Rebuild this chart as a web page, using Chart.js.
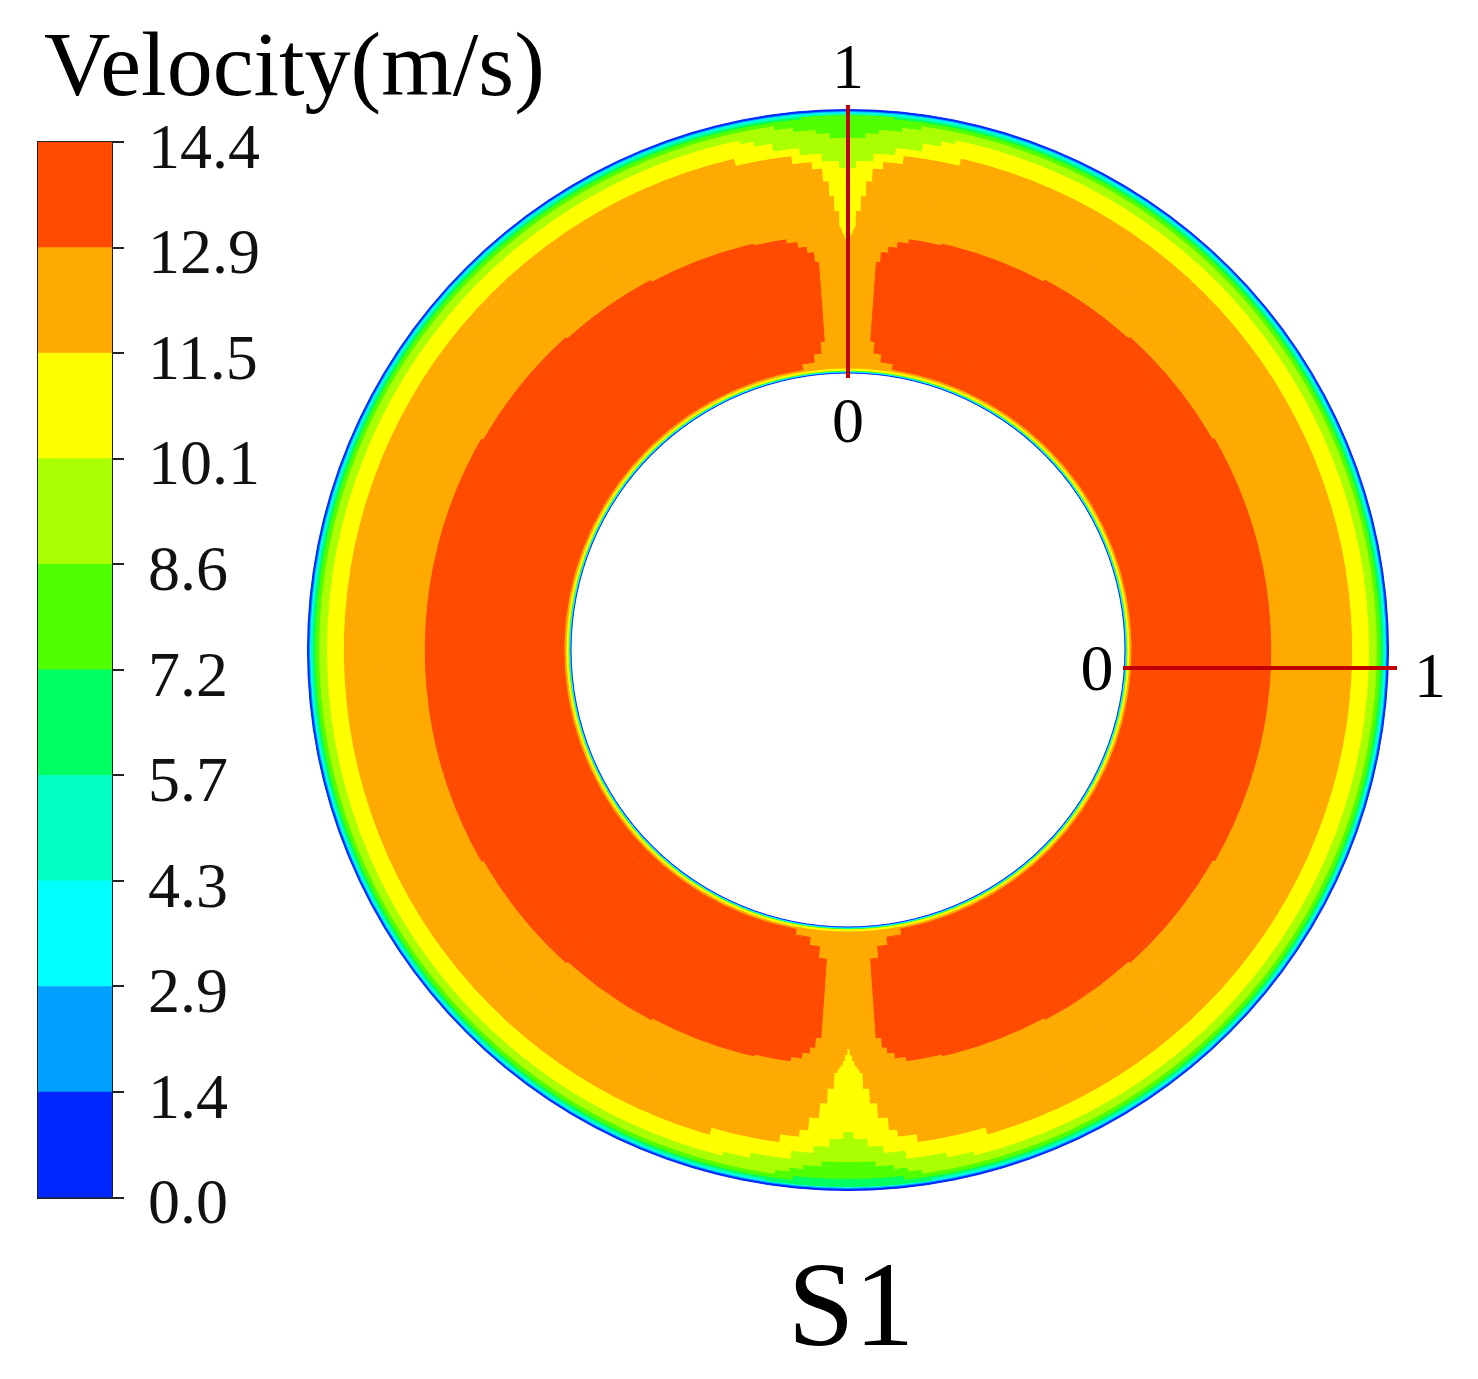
<!DOCTYPE html>
<html><head><meta charset="utf-8">
<script src="https://cdn.jsdelivr.net/npm/chart.js@4/dist/chart.umd.min.js"></script>
<style>
html,body{margin:0;padding:0;background:#fff;}
#wrap{position:relative;width:1478px;height:1379px;overflow:hidden;background:#fff;}
canvas{position:absolute;}
</style></head><body>
<div id="wrap">
<canvas id="cbar" width="300" height="1260" style="left:0;top:0"></canvas>
<canvas id="ring" width="1082" height="1082" style="left:307px;top:109px"></canvas>
<canvas id="over" width="1478" height="1379" style="left:0;top:0"></canvas>
</div>
<script>
// ---------- colour scale (velocity, m/s) ----------
const levelValues = [0, 1.44, 2.88, 4.32, 5.76, 7.2, 8.64, 10.08, 11.52, 12.96, 14.4];
const levelLabels = ['0.0','1.4','2.9','4.3','5.7','7.2','8.6','10.1','11.5','12.9','14.4'];
const levelColors = ['#0028FF','#00A0FF','#00FFFF','#00FFC0','#00FF60','#50FF00','#AAFF00','#FFFF00','#FFAA00','#FF4A00'];

// ---------- contour rings of the annular section ----------
// radial position xi (0 = inner wall, 1 = outer wall) of ring boundaries, outer -> inner
const ringEdges = [1.000,0.996,0.992,0.989,0.981,0.973,0.958,0.943,0.928,0.913,0.894,0.864,0.837,0.807,0.780,0.731,0.674,0.617,0.557,0.549,0.542,0.534,0.527,0.511,0.489,0.466,0.428,0.125,0.080,0.049,0.027,0.019,0.011,0.008,0.004,0.000];
// velocity level of the bulk of each ring
const ringLevel = [0,1,2,3,4,5,6,6,7,7,7,8,8,8,8,8,8,8,9,9,9,9,9,9,9,9,9,9,9,9,8,7,5,2,0];
// wedges centred on the top of the section: [half angle (deg), level], outermost first
const topWedges = [[],[],[],[],[[5,5]],[],[[8,5]],[[6,5]],[[12,6],[3.5,5]],[[10.5,6],[2,5]],[[8.5,6]],
  [[13,7],[5.5,6]],[[6.5,7],[3,6]],[[4.2,7],[1,6]],[[3,7]],[[2.3,7]],[[1.7,7]],[[1.1,7]],
  [[60,8],[0.9,7]],[[42,8],[0.8,7]],[[28,8],[0.7,7]],[[13,8],[0.6,7]],
  [[8.5,8],[0.4,7]],[[7,8],[0.15,7]],[[5.8,8]],[[4.8,8]],[[4.2,8]],[[5,8]],[[6.5,8]],[[9,8]],
  [],[],[],[],[]];
// wedges centred on the bottom of the section
const bottomWedges = [[],[],[],[[9,4]],[],[[6,4]],[[8,5]],[[6.5,5]],[[14,6],[5,5]],[[11,6],[3,5]],[[6.5,6]],
  [[16,7],[4,6]],[[8,7],[2.2,6]],[[5.8,7],[0.6,6]],[[4.8,7]],[[3.6,7]],[[2.7,7]],[[1.9,7]],
  [[60,8],[1.5,7]],[[42,8],[1.4,7]],[[28,8],[1.2,7]],[[13,8],[1.0,7]],
  [[8,8],[0.8,7]],[[6.5,8],[0.5,7]],[[5.5,8],[0.15,7]],[[4.8,8]],[[4,8]],[[5.5,8]],[[7.5,8]],[[10.5,8]],
  [],[],[],[],[]];

function ringSegments(base, top, bottom) {
  const segs = [];
  let prev = 0;
  for (let i = top.length - 1; i >= 0; i--) { segs.push([top[i][0] - prev, top[i][1]]); prev = top[i][0]; }
  const bh = bottom.length ? bottom[0][0] : 0;
  const th = top.length ? top[0][0] : 0;
  segs.push([180 - bh - th, base]);
  for (let i = 0; i < bottom.length; i++) { const n = i + 1 < bottom.length ? bottom[i + 1][0] : 0; segs.push([bottom[i][0] - n, bottom[i][1]]); }
  for (let i = bottom.length - 1; i >= 0; i--) { const n = i + 1 < bottom.length ? bottom[i + 1][0] : 0; segs.push([bottom[i][0] - n, bottom[i][1]]); }
  segs.push([180 - bh - th, base]);
  for (let i = 0; i < top.length; i++) { const n = i + 1 < top.length ? top[i + 1][0] : 0; segs.push([top[i][0] - n, top[i][1]]); }
  return segs;
}

const SERIF = "'Liberation Serif','Times New Roman',serif";

// ---------- colour bar ----------
new Chart(document.getElementById('cbar'), {
  type: 'bar',
  data: {
    labels: ['v'],
    datasets: levelColors.map((c, i) => ({
      data: [[levelValues[i], levelValues[i + 1]]],
      backgroundColor: c, borderWidth: 0, barPercentage: 1, categoryPercentage: 1, grouped: false
    }))
  },
  options: {
    responsive: false, animation: false, devicePixelRatio: 1, events: [],
    layout: { padding: { left: 38, top: 142, bottom: 62, right: 0 } },
    plugins: { legend: { display: false }, tooltip: { enabled: false } },
    scales: {
      x: { type: 'category', position: 'bottom', ticks: { display: false }, grid: { display: false },
           border: { display: true, color: '#222', width: 2 }, afterFit(s) { s.height = 0; } },
      x2: { type: 'category', position: 'top', labels: ['v'], ticks: { display: false }, grid: { display: false },
           border: { display: true, color: '#222', width: 2 }, afterFit(s) { s.height = 0; } },
      yl: { type: 'linear', position: 'left', min: 0, max: 14.4, ticks: { display: false }, grid: { display: false },
           border: { display: true, color: '#222', width: 2 }, afterFit(s) { s.width = 0; } },
      y: { type: 'linear', position: 'right', min: 0, max: 14.4,
           afterBuildTicks(s) { s.ticks = levelValues.map(v => ({ value: v })); },
           ticks: { autoSkip: false, callback: (v, i) => levelLabels[i], color: '#111',
                    font: { family: SERIF, size: 64 }, padding: 24, labelOffset: 9 },
           grid: { drawOnChartArea: false, drawTicks: true, tickLength: 12, color: '#222', lineWidth: 2 },
           border: { display: true, color: '#222', width: 2 },
           afterFit(s) { s.width = 188; } }
    }
  }
});

// ---------- annular contour (doughnut rings) ----------
const ringDatasets = ringLevel.map((lev, i) => {
  const segs = ringSegments(lev, topWedges[i], bottomWedges[i]);
  const cols = segs.map(s => levelColors[s[1]]);
  return {
    data: segs.map(s => s[0]),
    backgroundColor: cols, borderColor: cols, borderWidth: 1,
    weight: ringEdges[i] - ringEdges[i + 1]
  };
});
new Chart(document.getElementById('ring'), {
  type: 'doughnut',
  data: { datasets: ringDatasets },
  options: {
    responsive: false, animation: false, devicePixelRatio: 1, events: [],
    cutout: 277, rotation: 0, circumference: 360,
    layout: { padding: 0 },
    plugins: { legend: { display: false }, tooltip: { enabled: false } }
  }
});

// ---------- overlay: sampling lines and text (units: px from duct centre) ----------
const annotTexts = ['Velocity(m/s)', '1', '0', '0', '1', 'S1'];
const annotX = [-804, 0, 0, 249, 582, 3];
const annotY = [555, 562, 208, -40, -47, -695];
const annotSize = [92, 64, 64, 66, 64, 120];
const annotAlign = ['left', 'center', 'center', 'center', 'center', 'center'];

const textPlugin = {
  id: 'texts',
  afterDraw(chart) {
    const ctx = chart.ctx, xs = chart.scales.x, ys = chart.scales.y;
    ctx.save();
    ctx.fillStyle = '#000';
    ctx.textBaseline = 'alphabetic';
    annotTexts.forEach((t, i) => {
      ctx.font = annotSize[i] + 'px ' + SERIF;
      ctx.textAlign = annotAlign[i];
      ctx.fillText(t, xs.getPixelForValue(annotX[i]), ys.getPixelForValue(annotY[i]));
    });
    ctx.restore();
  }
};

new Chart(document.getElementById('over'), {
  type: 'scatter',
  data: {
    datasets: [
      { data: [{ x: 0, y: 272 }, { x: 0, y: 545 }], showLine: true, borderColor: '#C00000', borderWidth: 4, pointRadius: 0 },
      { data: [{ x: 275, y: -18 }, { x: 549, y: -18 }], showLine: true, borderColor: '#C00000', borderWidth: 4, pointRadius: 0 }
    ]
  },
  options: {
    responsive: false, animation: false, devicePixelRatio: 1, events: [],
    layout: { padding: 0 },
    plugins: { legend: { display: false }, tooltip: { enabled: false } },
    scales: {
      x: { type: 'linear', display: false, min: -848, max: 630 },
      y: { type: 'linear', display: false, min: -729, max: 650 }
    }
  },
  plugins: [textPlugin]
});
</script>
</body></html>
